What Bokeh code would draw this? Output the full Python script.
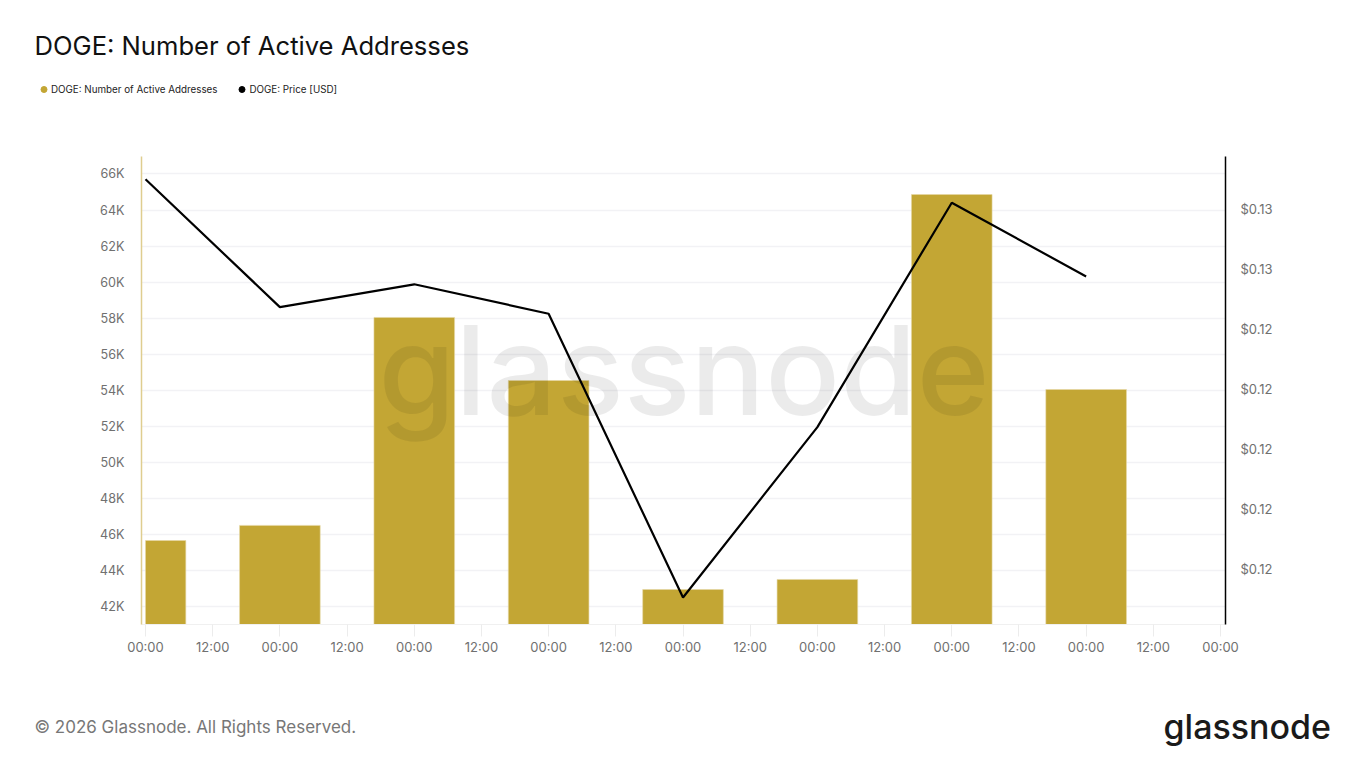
from bokeh.embed import file_html
from bokeh.resources import INLINE
from bokeh.plotting import figure
from bokeh.layouts import column
from bokeh.models import (ColumnDataSource, Range1d, LinearAxis, FixedTicker, Label,
                          Legend, LegendItem)

hours = [0, 24, 48, 72, 96, 120, 144, 168]
addresses = [45660, 46500, 58040, 54540, 42940, 43500, 64860, 54040]
price = [0.1275, 0.12537, 0.12575, 0.12526, 0.12053, 0.12337, 0.12711, 0.12588]
bar_half_hours = 7.2

x_ticks = list(range(0, 193, 12))
x_labels = ["00:00" if h % 24 == 0 else "12:00" for h in x_ticks]
y_ticks = list(range(42000, 66001, 2000))
y_labels = [f"{v // 1000}K" for v in y_ticks]
price_ticks = [0.127, 0.126, 0.125, 0.124, 0.123, 0.122, 0.121]
price_labels = ["$0.13", "$0.13", "$0.12", "$0.12", "$0.12", "$0.12", "$0.12"]

TITLE = "DOGE: Number of Active Addresses"
SERIES = ["DOGE: Number of Active Addresses", "DOGE: Price [USD]"]
FOOTER = "© 2026 Glassnode. All Rights Reserved."
BRAND = "glassnode"
GOLD = "#c3a634"
FONT = "Inter"
HEAVY = "Inter Medium"
GREY = "#707070"
W = 1366
NAN = float("nan")


def blank(height):
    f = figure(width=W, height=height, output_backend="svg", toolbar_location=None,
               x_range=Range1d(0, W), y_range=Range1d(0, height),
               min_border=0, x_axis_type=None, y_axis_type=None, frame_align=False)
    f.outline_line_color = None
    f.grid.visible = False
    return f


# header
head = blank(156)
head.add_layout(Label(x=34, y=111, x_units="screen", y_units="screen", text=TITLE,
                      text_font=FONT, text_font_size="25.6px", text_color="#111111",
                      text_baseline="alphabetic"))
dummy_a = head.scatter(x=[NAN], y=[NAN], marker="circle", size=7, fill_color=GOLD, line_color=GOLD)
dummy_b = head.scatter(x=[NAN], y=[NAN], marker="circle", size=7, fill_color="black", line_color="black")
legend = Legend(items=[LegendItem(label=SERIES[0], renderers=[dummy_a]),
                       LegendItem(label=SERIES[1], renderers=[dummy_b])],
                orientation="horizontal", location=(36, 58),
                label_text_font=FONT, label_text_font_size="9.8px", label_text_color="#222222",
                border_line_color=None, background_fill_alpha=0, glyph_width=15, glyph_height=18,
                label_standoff=0, spacing=17, padding=0, margin=0, label_height=18)
head.add_layout(legend, "center")

# main chart
p = figure(width=W, height=524, output_backend="svg", toolbar_location=None,
           x_range=Range1d(-0.715, 192.89), y_range=Range1d(41000, 66970),
           min_border_left=141, min_border_right=141, min_border_top=0, min_border_bottom=56,
           frame_align=False)
p.outline_line_color = None
p.background_fill_color = "white"
p.extra_y_ranges = {"price": Range1d(0.12008, 0.12788)}

src = ColumnDataSource(dict(
    left=[max(h - bar_half_hours, 0) for h in hours],
    right=[h + bar_half_hours for h in hours],
    top=addresses, hours=hours, price=price,
    bottom=[41000] * len(hours)))

p.quad(left="left", right="right", top="top", bottom="bottom", source=src,
       fill_color=GOLD, line_color="#e6d9a6", line_width=0.6)

p.add_layout(Label(x=237, y=255, x_units="screen", y_units="screen", text=BRAND,
                   text_font=HEAVY, text_font_size="124px", text_color="black", text_alpha=0.08,
                   text_baseline="alphabetic", level="glyph"))

p.line(x="hours", y="price", source=src, y_range_name="price", line_color="black",
       line_width=2.2, level="overlay")

xa = p.xaxis[0]
xa.ticker = FixedTicker(ticks=x_ticks)
xa.major_label_overrides = dict(zip(x_ticks, x_labels))
xa.axis_line_color = "#f0f0f0"
xa.major_tick_line_color = "#ececec"
xa.major_tick_in = 0
xa.major_tick_out = 12
xa.minor_tick_line_color = None
xa.major_label_text_font = FONT
xa.major_label_text_font_size = "13px"
xa.major_label_text_color = GREY
xa.major_label_standoff = 2

ya = p.yaxis[0]
ya.ticker = FixedTicker(ticks=y_ticks)
ya.major_label_overrides = dict(zip(y_ticks, y_labels))
ya.axis_line_color = "#dfcd8f"
ya.axis_line_width = 1.5
ya.major_tick_line_color = None
ya.minor_tick_line_color = None
ya.major_label_text_font = FONT
ya.major_label_text_font_size = "12.6px"
ya.major_label_text_color = GREY
ya.major_label_standoff = 11

ra = LinearAxis(y_range_name="price")
ra.ticker = FixedTicker(ticks=price_ticks)
ra.major_label_overrides = dict(zip(price_ticks, price_labels))
ra.axis_line_color = "black"
ra.axis_line_width = 1.5
ra.major_tick_line_color = None
ra.minor_tick_line_color = None
ra.major_label_text_font = FONT
ra.major_label_text_font_size = "13px"
ra.major_label_text_color = GREY
ra.major_label_standoff = 9
p.add_layout(ra, "right")

p.xgrid.grid_line_color = None
p.ygrid.grid_line_color = "#f2f2f5"
p.ygrid.grid_line_width = 1.5
p.ygrid.ticker = FixedTicker(ticks=y_ticks)
p.ygrid.bounds = (0, 192)

# footer
foot = blank(88)
foot.add_layout(Label(x=34, y=42, x_units="screen", y_units="screen", text=FOOTER,
                      text_font=FONT, text_font_size="17px", text_color="#777777",
                      text_baseline="alphabetic"))
foot.add_layout(Label(x=1163, y=42, x_units="screen", y_units="screen", text=BRAND,
                      text_font=HEAVY, text_font_size="34px", text_color="#1a1a1a",
                      text_baseline="alphabetic"))

page = column(head, p, foot, spacing=0)
open("out.html", "w").write(file_html(page, INLINE))
